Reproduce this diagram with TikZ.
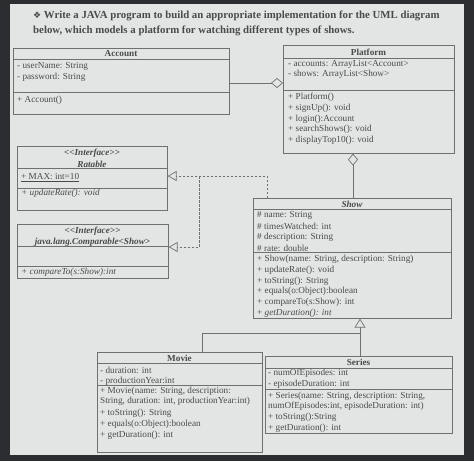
\documentclass[tikz,border=0pt]{standalone}
\usepackage{fontspec}
\setmainfont{Liberation Serif}
\newfontfamily\symfont{DejaVu Sans}
\usetikzlibrary{arrows.meta}
\definecolor{bgpanel}{HTML}{E3E5E5}
\definecolor{framecol}{HTML}{2B2D31}
\definecolor{ink}{HTML}{4A4A4A}
\definecolor{rulecol}{HTML}{707070}
\newcommand{\ifc}{{<}{<}Interface{>}{>}}
\begin{document}
\begin{tikzpicture}[x=1pt,y=-1pt,
 umlbox/.style={draw=rulecol, line width=0.6pt, fill=bgpanel, inner sep=0pt, anchor=north west},
 txt/.style={anchor=west, inner sep=0pt, text=ink, font=\fontsize{9.2}{10}\selectfont},
 ttl/.style={anchor=center, inner sep=0pt, text=ink, font=\fontsize{9.2}{10}\selectfont\bfseries},
 ittl/.style={anchor=center, inner sep=0pt, text=ink, font=\fontsize{9.2}{10}\selectfont\bfseries\itshape},
 itxt/.style={txt, font=\fontsize{9.2}{10}\selectfont\itshape},
 heading/.style={anchor=west, inner sep=0pt, text=ink, font=\fontsize{10.8}{12}\selectfont\bfseries},
 sepline/.style={draw=rulecol, line width=0.6pt},
 conn/.style={draw=rulecol, line width=0.7pt},
 aggr/.style={conn, -{Diamond[open, length=12pt, width=10pt, line width=0.7pt]}},
 real/.style={conn, dash pattern=on 2.5pt off 1.5pt, -{Triangle[open, length=9pt, width=10pt, line width=0.7pt]}},
 gen/.style={conn, -{Triangle[open, length=9pt, width=11pt, line width=0.7pt]}},
]
\fill[framecol] (0,0) rectangle (474,461);
\fill[bgpanel] (10,4) rectangle (464,455);
\useasboundingbox (0,0) rectangle (474,461);

% heading
\node[heading] (head1) at (33,16) {{\symfont\fontsize{9}{10}\selectfont ❖} Write a JAVA program to build an appropriate implementation for the UML diagram};
\node[heading] (head2) at (33,31) {below, which models a platform for watching different types of shows.};

% Account
\node[umlbox, minimum width=216pt, minimum height=66pt] (account) at (13,48) {};
\draw[sepline] (account.west |- 0,59) -- (account.east |- 0,59);
\draw[sepline] (account.west |- 0,92) -- (account.east |- 0,92);
\node[ttl] (accT) at (121,54) {Account};
\node[txt] (acc1) at (17,66) {- userName: String};
\node[txt] (acc2) at (17,77) {- password: String};
\node[txt] (acc3) at (17,100) {+ Account()};

% Platform
\node[umlbox, minimum width=171pt, minimum height=108pt] (platform) at (283,45) {};
\draw[sepline] (platform.west |- 0,58) -- (platform.east |- 0,58);
\draw[sepline] (platform.west |- 0,90) -- (platform.east |- 0,90);
\node[ttl] (plT) at (368.5,52) {Platform};
\node[txt] (pl1) at (288,64) {- accounts: ArrayList<Account>};
\node[txt] (pl2) at (288,74.5) {- shows: ArrayList<Show>};
\node[txt] (pl3) at (288,97) {+ Platform()};
\node[txt] (pl4) at (288,108) {+ signUp(): void};
\node[txt] (pl5) at (288,119) {+ login():Account};
\node[txt] (pl6) at (288,129.5) {+ searchShows(): void};
\node[txt] (pl7) at (288,140) {+ displayTop10(): void};

% Ratable
\node[umlbox, minimum width=150pt, minimum height=64pt] (ratable) at (17,146) {};
\draw[sepline] (ratable.west |- 0,168) -- (ratable.east |- 0,168);
\draw[sepline] (ratable.west |- 0,188) -- (ratable.east |- 0,188);
\node[ittl] (raT1) at (92,153.5) {\ifc};
\node[ittl] (raT2) at (92,164) {Ratable};
\node[txt] (ra1) at (21,178) {\underline{+ MAX: int=10}};
\node[itxt] (ra2) at (21,193.5) {+ updateRate(): void};

% Comparable
\node[umlbox, minimum width=151pt, minimum height=54pt] (comparable) at (17,224) {};
\draw[sepline] (comparable.west |- 0,246) -- (comparable.east |- 0,246);
\draw[sepline] (comparable.west |- 0,266) -- (comparable.east |- 0,266);
\node[ittl] (coT1) at (92.5,231) {\ifc};
\node[ittl] (coT2) at (92.5,242) {java.lang.Comparable<Show>};
\node[itxt] (co1) at (21,272) {+ compareTo(s:Show):int};

% Show
\node[umlbox, minimum width=198pt, minimum height=120pt] (show) at (253,198) {};
\draw[sepline] (show.west |- 0,209) -- (show.east |- 0,209);
\draw[sepline] (show.west |- 0,252) -- (show.east |- 0,252);
\node[ittl] (shT) at (352,204) {Show};
\node[txt] (sh1) at (257,215.5) {\# name: String};
\node[txt] (sh2) at (257,226.5) {\# timesWatched: int};
\node[txt] (sh3) at (257,237.5) {\# description: String};
\node[txt] (sh4) at (257,248) {\# rate: double};
\node[txt] (sh5) at (257,259.5) {+ Show(name: String, description: String)};
\node[txt] (sh6) at (257,270) {+ updateRate(): void};
\node[txt] (sh7) at (257,281) {+ toString(): String};
\node[txt] (sh8) at (257,291.5) {+ equals(o:Object):boolean};
\node[txt] (sh9) at (257,302.5) {+ compareTo(s:Show): int};
\node[txt] (sh10) at (257,313) {+ \textit{getDuration(): int}};

% Movie
\node[umlbox, minimum width=165pt, minimum height=100pt] (movie) at (97,352) {};
\draw[sepline] (movie.west |- 0,363) -- (movie.east |- 0,363);
\draw[sepline] (movie.west |- 0,385) -- (movie.east |- 0,385);
\node[ttl] (moT) at (179.5,358) {Movie};
\node[txt] (mo1) at (100,370.5) {- duration: int};
\node[txt] (mo2) at (100,381) {- productionYear:int};
\node[txt] (mo3) at (100,391) {+ Movie(name: String, description:};
\node[txt] (mo4) at (100,401.5) {String, duration: int, productionYear:int)};
\node[txt] (mo5) at (100,413) {+ toString(): String};
\node[txt] (mo6) at (100,424) {+ equals(o:Object):boolean};
\node[txt] (mo7) at (100,435.5) {+ getDuration(): int};

% Series
\node[umlbox, minimum width=187pt, minimum height=77pt] (series) at (265,356) {};
\draw[sepline] (series.west |- 0,368) -- (series.east |- 0,368);
\draw[sepline] (series.west |- 0,389) -- (series.east |- 0,389);
\node[ttl] (seT) at (358.5,362) {Series};
\node[txt] (se1) at (268,373.5) {- numOfEpisodes: int};
\node[txt] (se2) at (268,384) {- episodeDuration: int};
\node[txt] (se3) at (268,396) {+ Series(name: String, description: String,};
\node[txt] (se4) at (268,406.5) {numOfEpisodes:int, episodeDuration: int)};
\node[txt] (se5) at (268,417.5) {+ toString():String};
\node[txt] (se6) at (268,428) {+ getDuration(): int};

% connectors
\coordinate (aggY) at (0,83);
\draw[aggr] (account.east |- aggY) -- (platform.west |- aggY);
\coordinate (pdX) at (353,0);
\draw[aggr] (show.north -| pdX) -- (platform.south -| pdX);
\coordinate (rA) at (267,176);
\coordinate (rB) at (199,176);
\coordinate (rC) at (199,247);
\draw[real] (show.north -| rA) -- (rA) -- (ratable.east |- rA);
\draw[real] (rB) -- (rC) -- (comparable.east |- rC);
\coordinate (gM) at (202,333);
\coordinate (gJ) at (360,333);
\draw[gen] (movie.north -| gM) -- (gM) -- (gJ) -- (show.south -| gJ);
\draw[conn] (series.north -| gJ) -- (gJ);
\end{tikzpicture}
\end{document}
